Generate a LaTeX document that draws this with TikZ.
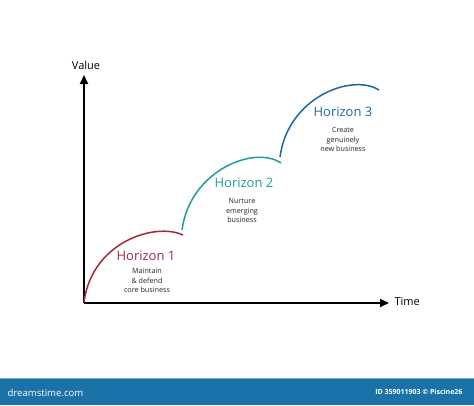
\documentclass[tikz,border=0pt]{standalone}
\usepackage{fontspec}
\setmainfont{Open Sans}
\usetikzlibrary{arrows.meta}
\definecolor{hred}{HTML}{A3283C}
\definecolor{hteal}{HTML}{1E9E98}
\definecolor{hblue}{HTML}{1D67A6}
\definecolor{banner}{HTML}{1B72A8}
\tikzset{
  axis/.style={line width=1.7pt,-{Triangle[length=9pt,width=8pt]}},
  curve/.style={line width=1.5pt},
  title/.style={font=\fontsize{13}{15}\selectfont},
  desc/.style={font=\fontsize{7.2}{9.4}\selectfont,align=center,text=black!85},
  axlabel/.style={font=\fontsize{11}{13}\selectfont}
}
\begin{document}
\begin{tikzpicture}[x=1pt,y=-1pt]
\useasboundingbox (0,0) rectangle (474,405);
\fill[white] (0,0) rectangle (474,405);
% axes
\coordinate (o) at (84,303);
\coordinate (ytop) at (84,75);
\coordinate (xend) at (389,303);
\draw[axis] (o) -- (ytop);
\draw[axis] (o) -- (xend);
\node[axlabel] (value) at (86,65) {Value};
\node[axlabel,anchor=west] (time) at (391,302) {Time};
% curves
\coordinate (r0) at (84,302);
\coordinate (r1) at (183,235);
\coordinate (t0) at (182,230);
\coordinate (t1) at (281,163);
\coordinate (b0) at (280,157);
\coordinate (b1) at (379,90);
\draw[curve,hred] (r0) .. controls +(8,-60) and +(-28,-13) .. (r1);
\draw[curve,hteal] (t0) .. controls +(8,-60) and +(-26,-18) .. (t1);
\draw[curve,hblue] (b0) .. controls +(8,-60) and +(-27,-17) .. (b1);
% labels
\node[title,text=hred] (h1) at (146,256) {Horizon 1};
\node[desc,anchor=north] (d1) at (147,265) {Maintain\\\& defend\\core business};
\node[title,text=hteal] (h2) at (244,183) {Horizon 2};
\node[desc,anchor=north] (d2) at (242,195) {Nurture\\emerging\\business};
\node[title,text=hblue] (h3) at (343,112) {Horizon 3};
\node[desc,anchor=north] (d3) at (343,124) {Create\\genuinely\\new business};
% banner
\fill[banner] (0,378) rectangle (474,405);
\draw[banner!60!white,line width=0.8pt] (0,378) -- (474,378);
\node[anchor=west,text=white,font=\fontsize{9.6}{11}\selectfont] (dt) at (4,393) {dreamstime.com};
\node[anchor=east,text=white,font=\bfseries\fontsize{7}{8}\selectfont] (id) at (466,392) {ID 359011903 © Piscine26};
\end{tikzpicture}
\end{document}
